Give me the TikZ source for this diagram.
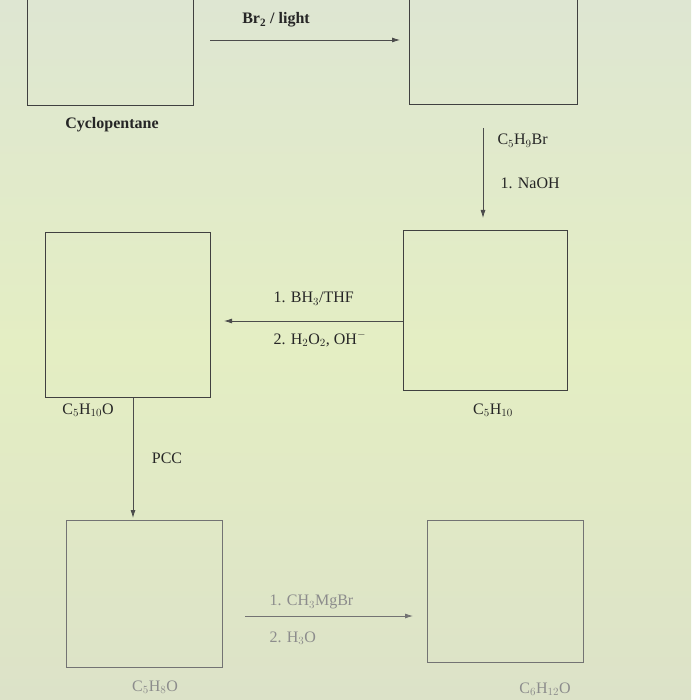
\documentclass[tikz,border=0pt]{standalone}
\usepackage{fontspec}
\setmainfont{Liberation Serif}
\usetikzlibrary{arrows.meta}
\begin{document}
\begin{tikzpicture}[x=1pt,y=-1pt,
  box/.style={draw=black!75,line width=0.9pt},
  arr/.style={draw=black!70,line width=0.8pt,-{Latex[length=8pt,width=5pt]}},
  lbl/.style={font=\fontsize{16}{18}\selectfont,text=black!85},
  faint/.style={font=\fontsize{16}{18}\selectfont,text=black!45}]
\shade[top color={rgb,255:red,222;green,230;blue,210},bottom color={rgb,255:red,220;green,226;blue,200},middle color={rgb,255:red,228;green,238;blue,195}] (0,0) rectangle (691,700);
\useasboundingbox (0,0) rectangle (691,700);
\draw[box] (27,0) -- (27,105) -- (193,105) -- (193,0);
\draw[box] (409,0) -- (409,104) -- (577,104) -- (577,0);
\draw[box] (45,232) rectangle (210,397);
\draw[box] (403,230) rectangle (567,390);
\draw[box,draw=black!55] (66,520) rectangle (222,667);
\draw[box,draw=black!55] (427,520) rectangle (583,662);
\coordinate (a1) at (210,40); \coordinate (a2) at (400,40);
\draw[arr] (a1) -- (a2);
\node[lbl,font=\bfseries\fontsize{16}{18}\selectfont] (t1) at (276,20) {Br$_\mathbf{2}$ / light};
\node[lbl,font=\bfseries\fontsize{16}{18}\selectfont] (cp) at (112,125) {Cyclopentane};
\coordinate (b1) at (483,128); \coordinate (b2) at (483,218);
\draw[arr] (b1) -- (b2);
\node[lbl,anchor=west] (t2) at (494,141) {C$_5$H$_9$Br};
\node[lbl,anchor=west] (t3) at (497,183) {1. NaOH};
\coordinate (c1) at (403,321); \coordinate (c2) at (224,321);
\draw[arr] (c1) -- (c2);
\node[lbl,anchor=west] (t4) at (270,299) {1. BH$_3$/THF};
\node[lbl,anchor=west] (t5) at (270,339) {2. H$_2$O$_2$, OH$^-$};
\node[lbl] (t6) at (88,410) {C$_5$H$_{10}$O};
\node[lbl] (t7) at (493,410) {C$_5$H$_{10}$};
\coordinate (d1) at (133,398); \coordinate (d2) at (133,518);
\draw[arr] (d1) -- (d2);
\node[lbl] (t8) at (167,458) {PCC};
\coordinate (e1) at (245,616); \coordinate (e2) at (413,616);
\draw[arr,draw=black!55] (e1) -- (e2);
\node[faint,anchor=west] (t9) at (266,602) {1. CH$_3$MgBr};
\node[faint,anchor=west] (t10) at (266,638) {2. H$_3$O};
\node[faint] (t11) at (155,687) {C$_5$H$_8$O};
\node[faint] (t12) at (545,689) {C$_6$H$_{12}$O};
\end{tikzpicture}
\end{document}
